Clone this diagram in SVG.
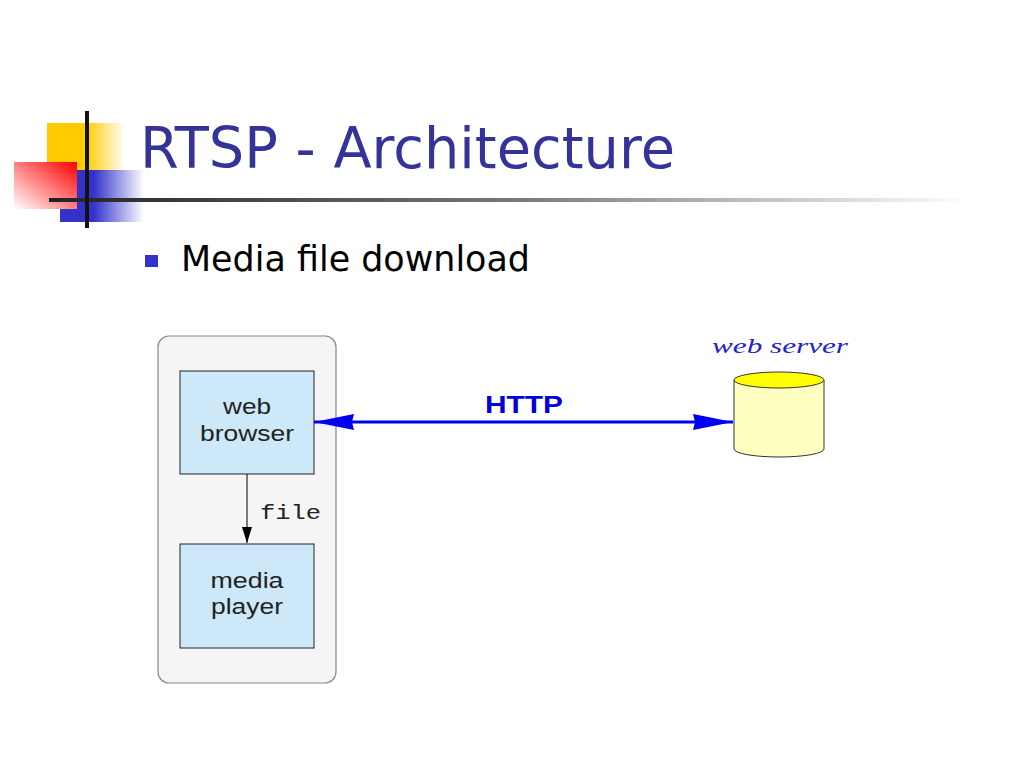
<svg xmlns="http://www.w3.org/2000/svg" width="1024" height="768" viewBox="0 0 1024 768">
<style>
.title{font-family:Tahoma,"DejaVu Sans","Liberation Sans",sans-serif;font-size:57px;fill:#333399}
.bullet{font-family:Tahoma,"DejaVu Sans","Liberation Sans",sans-serif;font-size:35px;fill:#000}
.box{fill:#cde9f9;stroke:#222;stroke-width:1}
.lbl{font-family:"Liberation Sans",Arial,sans-serif;font-size:22px;fill:#222;text-anchor:middle}
.mono{font-family:"Liberation Mono","Courier New",monospace;font-size:20px;fill:#222}
</style>
<defs>
<linearGradient id="gy" x1="0" x2="1" y1="0" y2="0"><stop offset="0.5" stop-color="#ffcc00"/><stop offset="1" stop-color="#ffcc00" stop-opacity="0"/></linearGradient>
<linearGradient id="gb" x1="0" x2="1" y1="0" y2="0"><stop offset="0.4" stop-color="#3333cc"/><stop offset="1" stop-color="#3333cc" stop-opacity="0"/></linearGradient>
<linearGradient id="gr" x1="1" x2="0" y1="0" y2="1"><stop offset="0" stop-color="#ff0000"/><stop offset="1" stop-color="#ffffff"/></linearGradient>
<linearGradient id="gl" x1="0" x2="1" y1="0" y2="0"><stop offset="0" stop-color="#222"/><stop offset="0.5" stop-color="#777"/><stop offset="1" stop-color="#fff"/></linearGradient>
<marker id="ab" viewBox="0 0 16 10" refX="16" refY="5" markerWidth="16" markerHeight="10" markerUnits="userSpaceOnUse" orient="auto"><path d="M0,0 L16,5 L0,10 Z" fill="#000"/></marker>
<marker id="hb" viewBox="0 0 40 16" refX="40" refY="8" markerWidth="40" markerHeight="16" markerUnits="userSpaceOnUse" orient="auto-start-reverse"><path d="M0,0 L40,8 L0,16 L2,8 Z" fill="#0000ee"/></marker>
</defs>
<g id="decor">
<rect x="47" y="123" width="78" height="48" fill="url(#gy)"/>
<rect x="60" y="170" width="84" height="52" fill="url(#gb)"/>
<rect x="14" y="162" width="63" height="47" fill="url(#gr)"/>
<rect x="49" y="198" width="920" height="4" fill="url(#gl)"/>
<rect x="85" y="111" width="4" height="117" fill="#111"/>
</g>
<text class="title" x="140" y="168" textLength="535" lengthAdjust="spacingAndGlyphs">RTSP - Architecture</text>
<rect x="145" y="255" width="13" height="12" fill="#3333cc"/>
<text class="bullet" x="181" y="271" textLength="349" lengthAdjust="spacingAndGlyphs">Media file download</text>
<g id="client">
<rect x="158" y="336" width="178" height="347" rx="11" fill="#f5f5f5" stroke="#888" stroke-width="1.2"/>
</g>
<g id="browser">
<rect class="box" x="180" y="371" width="134" height="103"/>
<text class="lbl" x="247" y="414" textLength="48" lengthAdjust="spacingAndGlyphs">web</text>
<text class="lbl" x="247" y="441" textLength="94" lengthAdjust="spacingAndGlyphs">browser</text>
</g>
<g id="player">
<rect class="box" x="180" y="544" width="134" height="104"/>
<text class="lbl" x="247" y="588" textLength="73" lengthAdjust="spacingAndGlyphs">media</text>
<text class="lbl" x="247" y="614" textLength="72" lengthAdjust="spacingAndGlyphs">player</text>
</g>
<g id="server">
<text x="780" y="353" text-anchor="middle" font-family="'Liberation Serif','Times New Roman',serif" font-style="italic" font-size="22" fill="#2222cc" textLength="136" lengthAdjust="spacingAndGlyphs">web server</text>
<path d="M734,380 L734,449 A45,8 0 0 0 824,449 L824,380" fill="#ffffc2" stroke="#333" stroke-width="1"/>
<ellipse cx="779" cy="380" rx="45" ry="8" fill="#ffff00" stroke="#333" stroke-width="1"/>
</g>
<g id="connectors">
<line x1="247" y1="474" x2="247" y2="543" stroke="#000" stroke-width="1" marker-end="url(#ab)"/>
<text class="mono" x="260" y="519" textLength="61" lengthAdjust="spacingAndGlyphs">file</text>
<line x1="314" y1="422" x2="733" y2="422" stroke="#0000ee" stroke-width="3" marker-start="url(#hb)" marker-end="url(#hb)"/>
<text x="524" y="413" text-anchor="middle" font-family="'Liberation Sans',Arial,sans-serif" font-weight="bold" font-size="24" fill="#0000dd" textLength="78" lengthAdjust="spacingAndGlyphs">HTTP</text>
</g>
</svg>
